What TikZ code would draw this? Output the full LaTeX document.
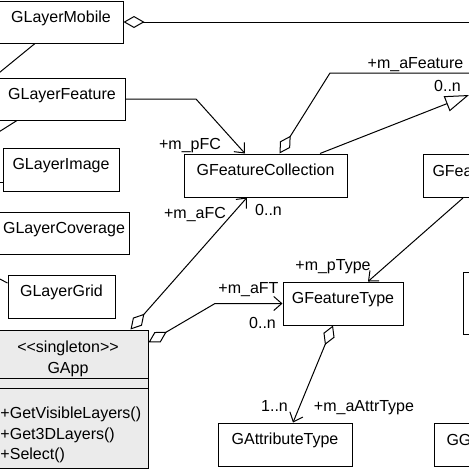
\documentclass[tikz,border=0pt]{standalone}
\usepackage{fontspec}
\setmainfont{Liberation Sans}
\usetikzlibrary{arrows.meta}
\begin{document}
\begin{tikzpicture}[x=1pt,y=-1pt,line width=1pt,
  every node/.style={font=\fontsize{16}{19}\selectfont},
  box/.style={draw, rectangle, inner sep=0pt, text height=11pt, text depth=11pt},
  lbl/.style={anchor=base, inner sep=0pt},
  dia/.style={{Diamond[open,length=21pt,width=12pt]}-},
  arr/.style={-{Straight Barb[length=8pt,width=14pt]}},
  diaarr/.style={{Diamond[open,length=21pt,width=12pt]}-{Straight Barb[length=8pt,width=14pt]}},
  tri/.style={-{Triangle[open,length=24pt,width=16pt]}}]
\useasboundingbox (0,0) rectangle (469,469);
\clip (0,0) rectangle (469,469);

% boxes
\node[box, minimum width=124pt, minimum height=42pt] (mobile) at (61,22) {GLayerMobile};
\node[box, minimum width=126pt, minimum height=42pt] (feature) at (62,99) {GLayerFeature};
\node[box, minimum width=116pt, minimum height=43pt] (image) at (61,169.5) {GLayerImage};
\node[box, minimum width=130pt, minimum height=42pt] (coverage) at (64,233) {GLayerCoverage};
\node[box, minimum width=107pt, minimum height=43pt] (grid) at (61.5,296.5) {GLayerGrid};
\node[draw, rectangle, inner sep=0pt, fill=black!8, minimum width=160pt, minimum height=138pt] (gapp) at (68,399) {};
\draw (-12,378) -- (148,378);
\draw (-12,388) -- (148,388);
\node[lbl] (gst) at (68,352) {{<}{<}singleton{>}{>}};
\node[lbl] (gname) at (68,373) {GApp};
\node[lbl, anchor=base west] (gm1) at (0,418) {+GetVisibleLayers()};
\node[lbl, anchor=base west] (gm2) at (0,439) {+Get3DLayers()};
\node[lbl, anchor=base west] (gm3) at (0,459) {+Select()};
\node[box, minimum width=163pt, minimum height=43pt] (fc) at (265.5,175.5) {GFeatureCollection};
\node[box, anchor=north west, minimum height=43pt, text width=100pt, inner xsep=9pt, align=left] (fea) at (423,154) {GFea};
\node[box, minimum width=120pt, minimum height=43pt] (ft) at (343,303.5) {GFeatureType};
\node[draw, rectangle, inner sep=0pt, anchor=north west, minimum width=100pt, minimum height=62pt] (rbox) at (463,272) {};
\node[box, minimum width=134pt, minimum height=43pt] (attr) at (285,444.5) {GAttributeType};
\node[box, anchor=north west, minimum height=43pt, text width=100pt, inner xsep=12pt, align=left] (gg) at (434,423) {GG};

% free ends
\coordinate (mR) at (475,22);
\coordinate (mBL) at (-6,77);
\coordinate (fBL) at (-6,135);
\coordinate (iL) at (-6,182);
\coordinate (gL) at (-6,276);
\coordinate (fcR) at (475,73);
\coordinate (triT) at (469,95);

% connectors
\draw[dia] (mobile.east) -- (mR);
\draw ([xshift=-26pt]mobile.south) -- (mBL);
\draw ([xshift=-45pt]feature.south) -- (fBL);
\draw (image.west |- iL) -- (iL);
\draw ([yshift=13.5pt]grid.west) -- (gL);
\draw[arr] (feature.east) -- (196,99) -- ([xshift=-20.5pt]fc.north);
\draw[dia] ([xshift=14pt]fc.north) -- (330,73) -- (fcR);
\draw[tri] ([xshift=54.5pt]fc.north) -- (triT);
\draw[diaarr] ([yshift=-13pt]gapp.north east) -- (215,303.5) -- (ft.west);
\draw[diaarr] ([xshift=-18pt]gapp.north east) -- ([xshift=-18.5pt]fc.south);
\draw[arr] ([xshift=40pt]fea.south west) -- ([xshift=25pt]ft.north);
\draw[diaarr] ([xshift=-10pt]ft.south) -- ([xshift=8pt]attr.north);

% labels
\node[lbl] (l1) at (190,149) {+m\_pFC};
\node[lbl] (l2) at (415.5,68) {+m\_aFeature};
\node[lbl] (l3) at (447.5,91) {0..n};
\node[lbl] (l4) at (195,218) {+m\_aFC};
\node[lbl] (l5) at (268.5,215) {0..n};
\node[lbl] (l6) at (248.5,293) {+m\_aFT};
\node[lbl] (l7) at (262.5,328) {0..n};
\node[lbl] (l8) at (333,270) {+m\_pType};
\node[lbl] (l9) at (274.5,411) {1..n};
\node[lbl] (l10) at (364,411) {+m\_aAttrType};
\end{tikzpicture}
\end{document}
